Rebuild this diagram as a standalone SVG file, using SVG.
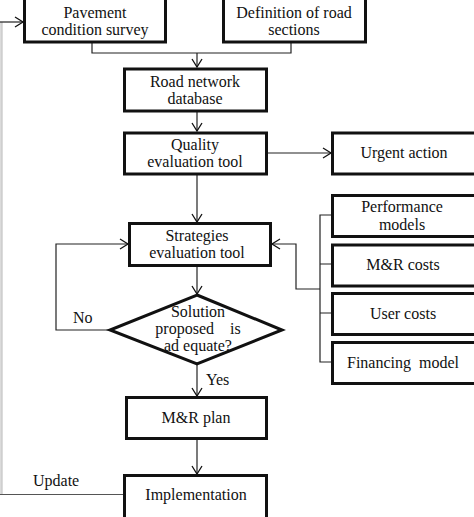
<svg xmlns="http://www.w3.org/2000/svg" width="474" height="517" viewBox="0 0 474 517">
<defs>
<marker id="ah" markerWidth="12" markerHeight="12" refX="10" refY="6" orient="auto" markerUnits="userSpaceOnUse">
<path d="M2,1 L10,6 L2,11" fill="none" stroke="#111" stroke-width="1.3"/>
</marker>
</defs>
<style>
.box{fill:#fff;stroke:#111;stroke-width:3}
.ln{fill:none;stroke:#222;stroke-width:1.2}
</style>
<rect width="474" height="517" fill="#fff"/>
<g id="connectors">
<line x1="1.5" y1="22" x2="1.5" y2="495" stroke="#cfcfcf" stroke-width="2.5"/>
<path class="ln" d="M0,22 H23" marker-end="url(#ah)"/>
<path class="ln" d="M92,42 V53 H291 V42"/>
<path class="ln" d="M197,53 V67" marker-end="url(#ah)"/>
<path class="ln" d="M197,111 V131" marker-end="url(#ah)"/>
<path class="ln" d="M267,153 H331" marker-end="url(#ah)"/>
<path class="ln" d="M197,175 V222" marker-end="url(#ah)"/>
<path class="ln" d="M332,215 H320 V362 H332 M320,264 H332 M320,313 H332"/>
<path class="ln" d="M320,289 H296 V244 H272" marker-end="url(#ah)"/>
<path class="ln" d="M197,266 V294" marker-end="url(#ah)"/>
<path class="ln" d="M110,330 H56 V244 H128" marker-end="url(#ah)"/>
<path class="ln" d="M197,364 V396" marker-end="url(#ah)"/>
<path class="ln" d="M197,439 V474" marker-end="url(#ah)"/>
<path d="M0,494.5 H124" fill="none" stroke="#555" stroke-width="1.2"/>
<text x="73" y="323" font-family="Liberation Serif" font-size="16" fill="#111">No</text>
<text x="206" y="385" font-family="Liberation Serif" font-size="16" fill="#111">Yes</text>
<text x="33" y="486" font-family="Liberation Serif" font-size="16" fill="#111">Update</text>
</g>
<g id="pavement">
<rect class="box" x="24.5" y="-2" width="141" height="44"/>
<text x="95" y="18" font-family="Liberation Serif" font-size="16" fill="#111" text-anchor="middle">Pavement</text>
<text x="95" y="35" font-family="Liberation Serif" font-size="16" fill="#111" text-anchor="middle">condition survey</text>
</g>
<g id="definition">
<rect class="box" x="223.5" y="-2" width="142" height="44"/>
<text x="294" y="18" font-family="Liberation Serif" font-size="16" fill="#111" text-anchor="middle">Definition of road</text>
<text x="294" y="35" font-family="Liberation Serif" font-size="16" fill="#111" text-anchor="middle">sections</text>
</g>
<g id="road-network">
<rect class="box" x="124.5" y="69" width="142" height="42"/>
<text x="195" y="87" font-family="Liberation Serif" font-size="16" fill="#111" text-anchor="middle">Road network</text>
<text x="195" y="104" font-family="Liberation Serif" font-size="16" fill="#111" text-anchor="middle">database</text>
</g>
<g id="quality">
<rect class="box" x="124.5" y="133" width="142" height="41"/>
<text x="195" y="150" font-family="Liberation Serif" font-size="16" fill="#111" text-anchor="middle">Quality</text>
<text x="195" y="167" font-family="Liberation Serif" font-size="16" fill="#111" text-anchor="middle">evaluation tool</text>
</g>
<g id="urgent">
<rect class="box" x="332.5" y="133" width="145" height="41"/>
<text x="404" y="158" font-family="Liberation Serif" font-size="16" fill="#111" text-anchor="middle">Urgent action</text>
</g>
<g id="strategies">
<rect class="box" x="129.5" y="223.5" width="141" height="42"/>
<text x="197" y="241" font-family="Liberation Serif" font-size="16" fill="#111" text-anchor="middle">Strategies</text>
<text x="197" y="258" font-family="Liberation Serif" font-size="16" fill="#111" text-anchor="middle">evaluation tool</text>
</g>
<g id="performance">
<rect class="box" x="332.5" y="195.5" width="145" height="41"/>
<text x="402" y="212" font-family="Liberation Serif" font-size="16" fill="#111" text-anchor="middle">Performance</text>
<text x="402" y="230" font-family="Liberation Serif" font-size="16" fill="#111" text-anchor="middle">models</text>
</g>
<g id="mr-costs">
<rect class="box" x="332.5" y="245" width="145" height="41"/>
<text x="403" y="270" font-family="Liberation Serif" font-size="16" fill="#111" text-anchor="middle">M&amp;R costs</text>
</g>
<g id="user-costs">
<rect class="box" x="332.5" y="293.5" width="145" height="41"/>
<text x="403" y="319" font-family="Liberation Serif" font-size="16" fill="#111" text-anchor="middle">User costs</text>
</g>
<g id="financing">
<rect class="box" x="332.5" y="342.5" width="145" height="41"/>
<text x="403" y="368" font-family="Liberation Serif" font-size="16" fill="#111" text-anchor="middle" xml:space="preserve">Financing  model</text>
</g>
<g id="decision">
<polygon class="box" points="197,295 282,330 197,364 110,330"/>
<text x="198" y="317" font-family="Liberation Serif" font-size="16" fill="#111" text-anchor="middle">Solution</text>
<text x="198" y="334" font-family="Liberation Serif" font-size="16" fill="#111" text-anchor="middle" xml:space="preserve">proposed    is</text>
<text x="198" y="351" font-family="Liberation Serif" font-size="16" fill="#111" text-anchor="middle">ad equate?</text>
</g>
<g id="mr-plan">
<rect class="box" x="126.5" y="397.5" width="140" height="41"/>
<text x="196" y="423" font-family="Liberation Serif" font-size="16" fill="#111" text-anchor="middle">M&amp;R plan</text>
</g>
<g id="implementation">
<rect class="box" x="124.5" y="475.5" width="142" height="45"/>
<text x="196" y="500" font-family="Liberation Serif" font-size="16" fill="#111" text-anchor="middle">Implementation</text>
</g>
</svg>
